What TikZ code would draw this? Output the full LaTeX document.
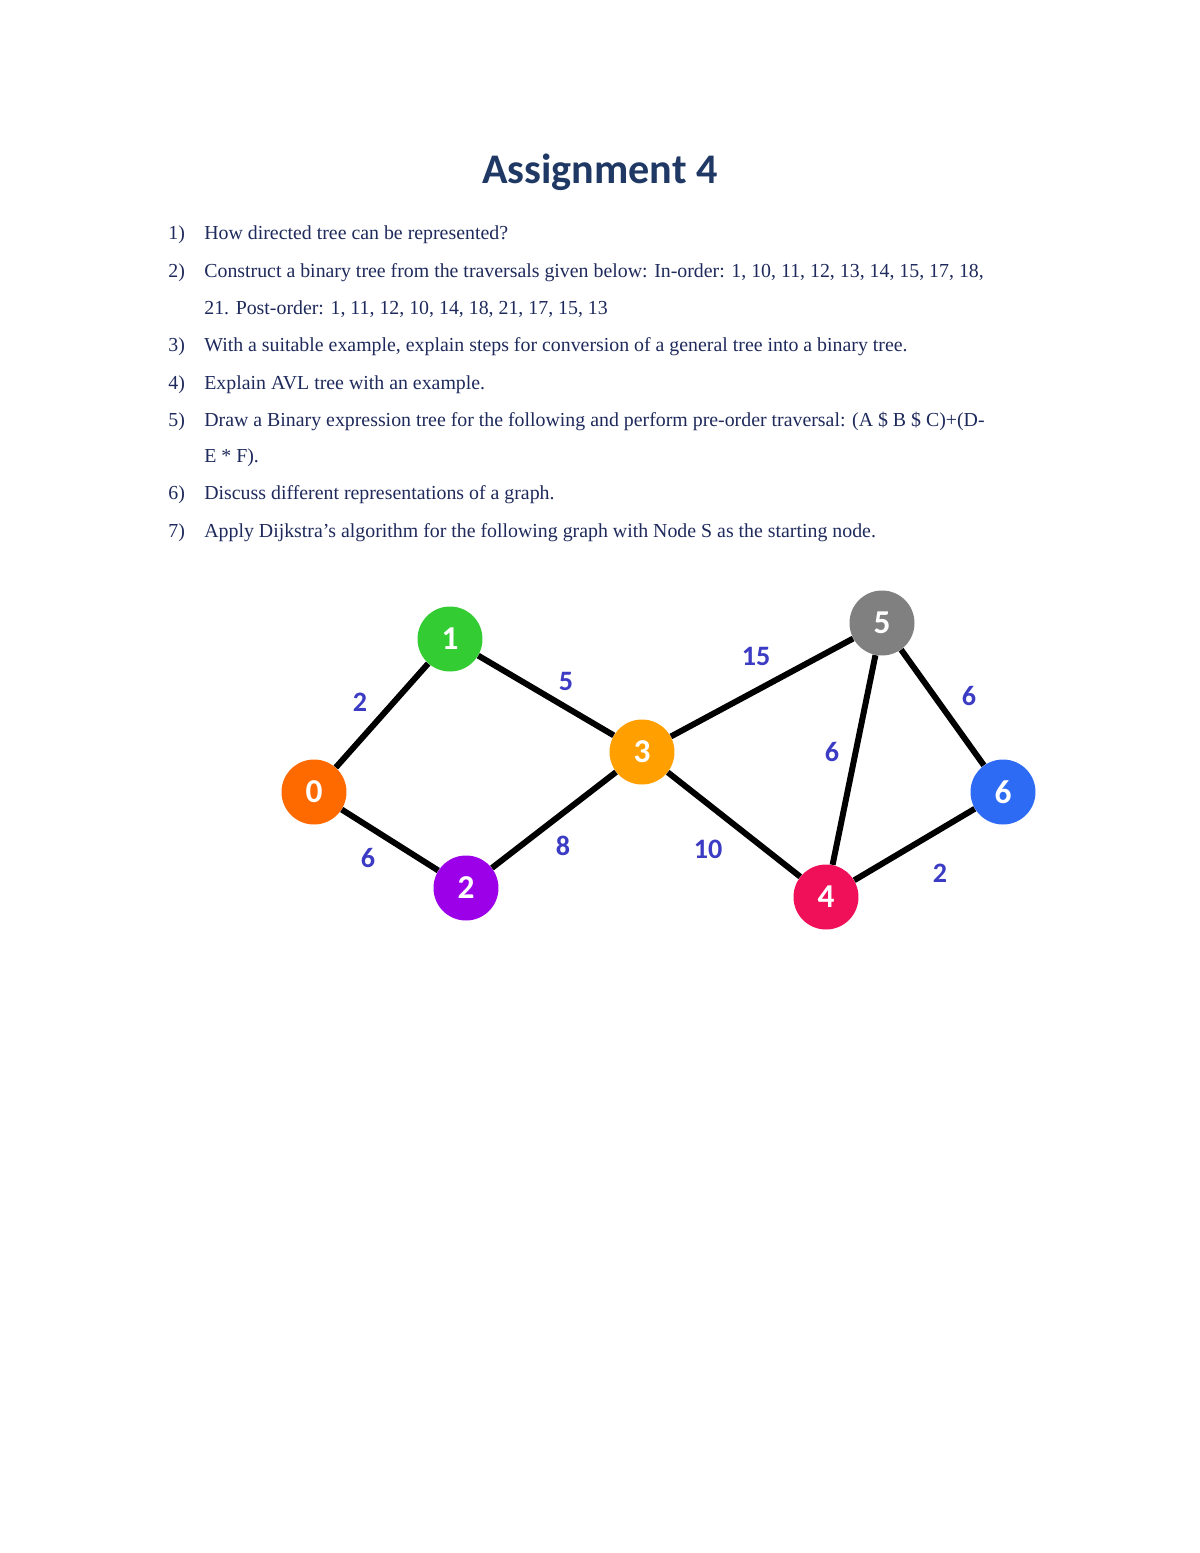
\documentclass[tikz,border=0pt]{standalone}
\usepackage{fontspec}
\setmainfont{Liberation Serif}
\newfontfamily\headfont{Carlito}
\definecolor{navy}{HTML}{1F3864}
\definecolor{itemblue}{HTML}{1F2A5C}
\definecolor{wblue}{HTML}{3B3BC4}
\definecolor{c0}{HTML}{FF6A00}
\definecolor{c1}{HTML}{33CC33}
\definecolor{c2}{HTML}{9B00E8}
\definecolor{c3}{HTML}{FF9F00}
\definecolor{c4}{HTML}{F0105A}
\definecolor{c5}{HTML}{808080}
\definecolor{c6}{HTML}{2E6BF5}
\begin{document}
\begin{tikzpicture}[x=0.02cm,y=-0.02cm,
  vert/.style={circle,minimum size=1.3cm,inner sep=0pt,text=white,font=\headfont\bfseries\fontsize{19}{19}\selectfont},
  edge/.style={line width=3.4pt},
  wt/.style={text=wblue,font=\headfont\bfseries\fontsize{16}{16}\selectfont},
  num/.style={anchor=base west,text=itemblue,font=\fontsize{11.3}{12}\selectfont,inner sep=0pt},
  line/.style={anchor=base west,text=itemblue,font=\fontsize{11.3}{12}\selectfont,inner sep=0pt}]
\useasboundingbox (0,0) rectangle (1200,1553);
\node[text=navy,font=\headfont\bfseries\fontsize{24}{24}\selectfont] (title) at (600,172) {Assignment 4};
% questions
\foreach \n/\y/\t in {1)/239/How directed tree can be represented?,
  2)/277/{Construct a binary tree from the traversals given below: In-order: 1, 10, 11, 12, 13, 14, 15, 17, 18,},
  3)/351/{With a suitable example, explain steps for conversion of a general tree into a binary tree.},
  4)/389/Explain AVL tree with an example.,
  5)/426/{Draw a Binary expression tree for the following and perform pre-order traversal: (A \$ B \$ C)+(D-},
  6)/499/Discuss different representations of a graph.,
  7)/537/Apply Dijkstra's algorithm for the following graph with Node S as the starting node.}
{\node[num] at (168,\y) {\n};
 \node[line] at (204,\y) {\t};}
\node[line] (q2b) at (204,314) {21. Post-order: 1, 11, 12, 10, 14, 18, 21, 17, 15, 13};
\node[line] (q5b) at (204,462) {E * F).};
% graph
\node[vert,fill=c0] (v0) at (314,792) {0};
\node[vert,fill=c1] (v1) at (450,639) {1};
\node[vert,fill=c2] (v2) at (466,888) {2};
\node[vert,fill=c3] (v3) at (642,752) {3};
\node[vert,fill=c4] (v4) at (826,897) {4};
\node[vert,fill=c5] (v5) at (882,623) {5};
\node[vert,fill=c6] (v6) at (1003,792) {6};
\draw[edge] (v0) -- (v1);
\draw[edge] (v0) -- (v2);
\draw[edge] (v1) -- (v3);
\draw[edge] (v2) -- (v3);
\draw[edge] (v3) -- (v5);
\draw[edge] (v3) -- (v4);
\draw[edge] (v4) -- (v5);
\draw[edge] (v5) -- (v6);
\draw[edge] (v4) -- (v6);
\node[wt] (w01) at (360,702) {2};
\node[wt] (w13) at (566,681) {5};
\node[wt] (w02) at (368,858) {6};
\node[wt] (w23) at (563,846) {8};
\node[wt] (w35) at (756,656) {15};
\node[wt] (w34) at (708,849) {10};
\node[wt] (w45) at (832,752) {6};
\node[wt] (w56) at (969,696) {6};
\node[wt] (w46) at (940,873) {2};
\end{tikzpicture}
\end{document}
